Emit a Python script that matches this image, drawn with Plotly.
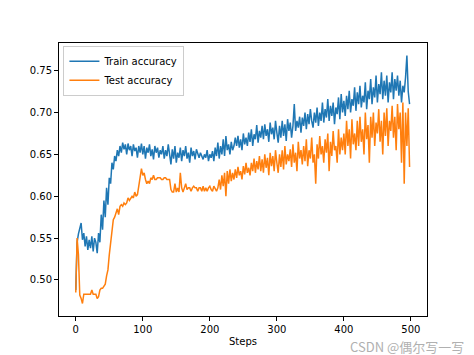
import plotly.graph_objects as go

steps = list(range(0, 500, 2))

train_acc = [
    0.488, 0.545, 0.555, 0.562, 0.568, 0.548, 0.556, 0.540, 0.552, 0.536,
    0.548, 0.538, 0.552, 0.534, 0.550, 0.545, 0.532, 0.556, 0.545, 0.578,
    0.560, 0.595, 0.575, 0.610, 0.590, 0.622, 0.615, 0.640, 0.632, 0.648,
    0.642, 0.655, 0.648, 0.660, 0.652, 0.664, 0.656, 0.662, 0.650, 0.663,
    0.655, 0.660, 0.648, 0.662, 0.654, 0.658, 0.646, 0.660, 0.652, 0.663,
    0.650, 0.660, 0.645, 0.658, 0.652, 0.662, 0.648, 0.656, 0.644, 0.660,
    0.652, 0.658, 0.646, 0.655, 0.650, 0.660, 0.645, 0.655, 0.648, 0.662,
    0.650, 0.638, 0.656, 0.645, 0.660, 0.640, 0.652, 0.646, 0.658, 0.642,
    0.655, 0.648, 0.660, 0.645, 0.652, 0.640, 0.658, 0.648, 0.654, 0.644,
    0.656, 0.650, 0.646, 0.652, 0.648, 0.644, 0.650, 0.646, 0.655, 0.642,
    0.650, 0.646, 0.654, 0.642, 0.658, 0.648, 0.664, 0.645, 0.660, 0.650,
    0.668, 0.648, 0.672, 0.655, 0.662, 0.650, 0.665, 0.655, 0.660, 0.670,
    0.660, 0.672, 0.658, 0.668, 0.655, 0.675, 0.662, 0.670, 0.660, 0.676,
    0.665, 0.680, 0.660, 0.674, 0.668, 0.685, 0.664, 0.678, 0.670, 0.684,
    0.668, 0.686, 0.672, 0.680, 0.665, 0.688, 0.674, 0.682, 0.668, 0.690,
    0.676, 0.664, 0.684, 0.670, 0.690, 0.672, 0.686, 0.666, 0.692, 0.678,
    0.688, 0.670, 0.684, 0.710, 0.678, 0.690, 0.682, 0.695, 0.676, 0.694,
    0.684, 0.700, 0.680, 0.698, 0.686, 0.704, 0.690, 0.682, 0.700, 0.688,
    0.706, 0.684, 0.700, 0.690, 0.712, 0.688, 0.704, 0.694, 0.716, 0.690,
    0.708, 0.696, 0.712, 0.686, 0.706, 0.698, 0.718, 0.692, 0.722, 0.700,
    0.714, 0.696, 0.720, 0.704, 0.726, 0.700, 0.716, 0.708, 0.730, 0.702,
    0.724, 0.710, 0.732, 0.706, 0.720, 0.712, 0.736, 0.704, 0.726, 0.716,
    0.740, 0.710, 0.730, 0.718, 0.744, 0.712, 0.734, 0.722, 0.748, 0.716,
    0.738, 0.720, 0.744, 0.712, 0.736, 0.724, 0.748, 0.716, 0.740, 0.726,
    0.744, 0.720, 0.738, 0.712, 0.732, 0.724, 0.742, 0.768, 0.725, 0.710,
]

test_acc = [
    0.485, 0.550, 0.530, 0.482, 0.478, 0.472, 0.483, 0.483, 0.483, 0.483,
    0.483, 0.483, 0.488, 0.483, 0.483, 0.483, 0.478, 0.480, 0.488, 0.490,
    0.490, 0.492, 0.495, 0.505, 0.512, 0.530, 0.545, 0.560, 0.572, 0.575,
    0.582, 0.585, 0.578, 0.588, 0.590, 0.588, 0.592, 0.590, 0.592, 0.598,
    0.595, 0.598, 0.600, 0.598, 0.605, 0.600, 0.602, 0.612, 0.625, 0.633,
    0.625, 0.628, 0.620, 0.615, 0.618, 0.615, 0.622, 0.620, 0.625, 0.620,
    0.620, 0.622, 0.622, 0.622, 0.620, 0.620, 0.622, 0.622, 0.620, 0.620,
    0.620, 0.608, 0.605, 0.605, 0.615, 0.605, 0.610, 0.605, 0.628, 0.610,
    0.605, 0.610, 0.615, 0.608, 0.610, 0.610, 0.606, 0.610, 0.612, 0.610,
    0.610, 0.606, 0.610, 0.610, 0.606, 0.612, 0.606, 0.610, 0.606, 0.610,
    0.612, 0.608, 0.606, 0.612, 0.608, 0.606, 0.610, 0.620, 0.608, 0.625,
    0.612, 0.628, 0.600, 0.630, 0.615, 0.632, 0.618, 0.628, 0.620, 0.632,
    0.622, 0.635, 0.625, 0.630, 0.620, 0.636, 0.626, 0.640, 0.628, 0.634,
    0.625, 0.640, 0.630, 0.645, 0.628, 0.642, 0.632, 0.648, 0.630, 0.644,
    0.628, 0.650, 0.634, 0.646, 0.625, 0.652, 0.636, 0.648, 0.630, 0.655,
    0.640, 0.628, 0.650, 0.635, 0.655, 0.632, 0.660, 0.638, 0.650, 0.642,
    0.656, 0.635, 0.662, 0.640, 0.652, 0.630, 0.665, 0.645, 0.655, 0.638,
    0.660, 0.642, 0.668, 0.636, 0.655, 0.645, 0.670, 0.640, 0.650, 0.615,
    0.662, 0.645, 0.672, 0.650, 0.660, 0.640, 0.668, 0.652, 0.675, 0.630,
    0.665, 0.648, 0.678, 0.655, 0.660, 0.640, 0.680, 0.650, 0.670, 0.655,
    0.675, 0.650, 0.690, 0.660, 0.680, 0.645, 0.692, 0.662, 0.675, 0.655,
    0.690, 0.660, 0.695, 0.665, 0.680, 0.650, 0.700, 0.668, 0.685, 0.640,
    0.695, 0.670, 0.700, 0.660, 0.688, 0.675, 0.704, 0.665, 0.690, 0.650,
    0.700, 0.672, 0.705, 0.660, 0.690, 0.678, 0.708, 0.670, 0.695, 0.655,
    0.710, 0.680, 0.700, 0.640, 0.712, 0.615, 0.700, 0.660, 0.705, 0.635,
]

x_ticks = [0, 100, 200, 300, 400, 500]
y_ticks = [0.50, 0.55, 0.60, 0.65, 0.70, 0.75]
y_tick_labels = ["0.50", "0.55", "0.60", "0.65", "0.70", "0.75"]

FONT = "DejaVu Sans"

fig = go.Figure()
fig.add_trace(go.Scatter(x=steps, y=train_acc, mode="lines", name="Train accuracy",
                         line=dict(color="#1f77b4", width=1.5)))
fig.add_trace(go.Scatter(x=steps, y=test_acc, mode="lines", name="Test accuracy",
                         line=dict(color="#ff7f0e", width=1.5)))

# the page body has an 8px margin, so the margins are trimmed to compensate
fig.update_layout(
    width=474, height=355,
    margin=dict(l=51, r=55, t=35, b=47),
    paper_bgcolor="white", plot_bgcolor="white",
    font=dict(family=FONT, size=10, color="black"),
    showlegend=True,
    legend=dict(x=0.012, y=0.99, xanchor="left", yanchor="top",
                bgcolor="rgba(255,255,255,0.8)", bordercolor="#cccccc", borderwidth=1,
                font=dict(family=FONT, size=10), itemwidth=30,
                tracegroupgap=0),
    xaxis=dict(range=[-25, 524], tickvals=x_ticks, ticks="outside", ticklen=4,
               tickwidth=0.8, tickcolor="black", showline=True, linecolor="black",
               linewidth=0.8, mirror=True, showgrid=False, zeroline=False,
               title=dict(text="Steps", font=dict(family=FONT, size=10), standoff=4)),
    yaxis=dict(range=[0.457, 0.783], tickvals=y_ticks, ticktext=y_tick_labels,
               ticks="outside", ticklen=4, tickwidth=0.8, tickcolor="black",
               showline=True, linecolor="black", linewidth=0.8, mirror=True,
               showgrid=False, zeroline=False),
)

fig.add_annotation(text="CSDN @偶尔写一写", xref="paper", yref="paper",
                   x=1.105, y=-0.112, xanchor="right", yanchor="middle", showarrow=False,
                   font=dict(family="Noto Sans CJK SC", size=13, color="#b0b0b0"))

fig.write_html("out.html")
